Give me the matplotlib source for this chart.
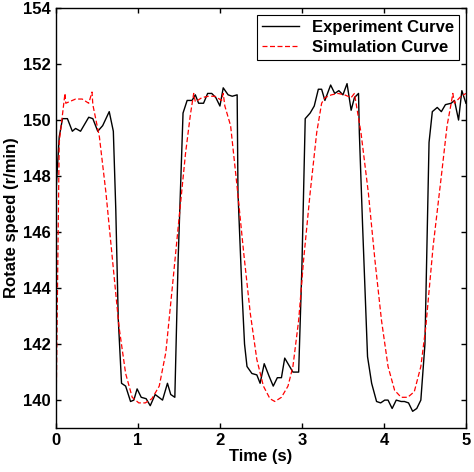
import matplotlib
matplotlib.use("Agg")
import matplotlib.pyplot as plt
import numpy as np

# (time s, speed r/min)
experiment = [
    (0.00, 147.4), (0.04, 149.4), (0.08, 150.05), (0.14, 150.05), (0.20, 149.6),
    (0.24, 149.7), (0.30, 149.6), (0.40, 150.1), (0.45, 150.05), (0.51, 149.6),
    (0.57, 149.8), (0.65, 150.3), (0.70, 149.6), (0.73, 146.8), (0.76, 142.9),
    (0.80, 140.6), (0.85, 140.5), (0.91, 139.95), (0.95, 140.0), (0.99, 140.4),
    (1.04, 140.1), (1.10, 140.05), (1.15, 139.8), (1.21, 140.2), (1.30, 140.0),
    (1.36, 140.6), (1.40, 140.2), (1.45, 140.1), (1.49, 145.0), (1.55, 150.25),
    (1.60, 150.7), (1.66, 150.7), (1.70, 150.9), (1.74, 150.6), (1.80, 150.6),
    (1.85, 150.95), (1.90, 150.95), (1.95, 150.8), (2.00, 150.5), (2.04, 151.15),
    (2.10, 150.9), (2.15, 150.85), (2.21, 150.9), (2.22, 147.4), (2.27, 143.8),
    (2.30, 142.0), (2.33, 141.2), (2.39, 140.95), (2.45, 140.9), (2.49, 140.6),
    (2.54, 141.3), (2.60, 140.85), (2.65, 140.5), (2.70, 140.8), (2.75, 140.8),
    (2.79, 141.5), (2.83, 141.3), (2.89, 141.0), (2.96, 141.0), (3.00, 144.8),
    (3.04, 150.05), (3.10, 150.25), (3.15, 150.5), (3.20, 151.1), (3.24, 151.1),
    (3.28, 150.7), (3.35, 151.25), (3.40, 150.95), (3.45, 151.05), (3.50, 150.9),
    (3.55, 151.3), (3.60, 150.35), (3.64, 150.8), (3.69, 150.95), (3.70, 149.55),
    (3.74, 146.2), (3.80, 141.55), (3.85, 140.6), (3.91, 139.95), (3.96, 139.9),
    (4.01, 140.0), (4.05, 140.0), (4.10, 139.7), (4.15, 140.0), (4.21, 139.95),
    (4.25, 139.95), (4.30, 139.9), (4.35, 139.6), (4.40, 139.7), (4.45, 140.0),
    (4.50, 142.0), (4.55, 149.2), (4.59, 150.3), (4.65, 150.45), (4.70, 150.3),
    (4.75, 150.55), (4.82, 150.6), (4.86, 150.7), (4.91, 150.0), (4.95, 151.05),
    (5.00, 150.6),
]

simulation = [
    (0.00, 139.2), (0.04, 149.2), (0.11, 150.95), (0.12, 150.6), (0.24, 150.75),
    (0.32, 150.75), (0.40, 150.6), (0.44, 151.0), (0.45, 150.55), (0.53, 149.4),
    (0.61, 147.4), (0.69, 145.0), (0.77, 142.6), (0.85, 140.95), (0.93, 140.1),
    (1.01, 139.9), (1.09, 139.9), (1.17, 140.05), (1.26, 140.5), (1.34, 141.7),
    (1.42, 144.05), (1.50, 146.45), (1.58, 148.8), (1.64, 150.2), (1.68, 150.95),
    (1.70, 150.65), (1.78, 150.8), (1.86, 150.85), (1.94, 150.85), (2.02, 150.7),
    (2.04, 150.95), (2.06, 150.5), (2.13, 149.8), (2.21, 147.6), (2.29, 145.25),
    (2.37, 143.1), (2.45, 141.45), (2.53, 140.5), (2.61, 140.05), (2.67, 139.95),
    (2.75, 140.1), (2.83, 140.5), (2.89, 141.2), (2.96, 142.85), (3.02, 145.0),
    (3.10, 147.4), (3.18, 149.55), (3.24, 150.6), (3.28, 150.8), (3.36, 150.9),
    (3.44, 150.95), (3.52, 150.9), (3.60, 150.8), (3.64, 150.95), (3.66, 150.6),
    (3.72, 149.55), (3.81, 147.4), (3.89, 145.0), (3.97, 142.85), (4.05, 141.2),
    (4.13, 140.35), (4.21, 140.1), (4.29, 140.1), (4.37, 140.3), (4.45, 141.2),
    (4.51, 142.6), (4.60, 145.5), (4.70, 148.0), (4.77, 149.8), (4.82, 150.6),
    (4.84, 150.95), (4.86, 150.6), (4.94, 150.85), (5.00, 150.95),
]

x_ticks = [0, 1, 2, 3, 4, 5]
y_ticks = [140, 142, 144, 146, 148, 150, 152, 154]

exp_t, exp_v = np.array(experiment).T
sim_t, sim_v = np.array(simulation).T

plt.rcParams["font.family"] = ["Liberation Sans", "DejaVu Sans"]
plt.rcParams["font.weight"] = "bold"

fig = plt.figure(figsize=(4.74, 4.72), dpi=100)
ax = fig.add_axes([0.118, 0.093, 0.865, 0.890])

ax.plot(exp_t, exp_v, color="black", lw=1.0, label="Experiment Curve")
ax.plot(sim_t, sim_v, color="red", lw=0.9, ls=(0, (4, 2)), label="Simulation Curve")

ax.set_xlim(0, 5)
ax.set_ylim(139, 154)
ax.set_xticks(x_ticks)
ax.set_yticks(y_ticks)
ax.tick_params(direction="in", top=True, right=True, labelsize=12, width=1)
for lab in ax.get_xticklabels() + ax.get_yticklabels():
    lab.set_fontweight("bold")
for s in ax.spines.values():
    s.set_linewidth(1)

ax.set_xlabel("Time (s)", fontsize=12, fontweight="bold", labelpad=1)
ax.set_ylabel("Rotate speed (r/min)", fontsize=12, fontweight="bold", labelpad=3)

leg = ax.legend(loc="upper right", fontsize=12, fancybox=False, framealpha=1,
                edgecolor="black", borderaxespad=0.4, handlelength=2.2,
                borderpad=0.3, labelspacing=0.3)
leg.get_frame().set_linewidth(0.8)
for t in leg.get_texts():
    t.set_fontweight("bold")

fig.savefig("out.png", dpi=100)
